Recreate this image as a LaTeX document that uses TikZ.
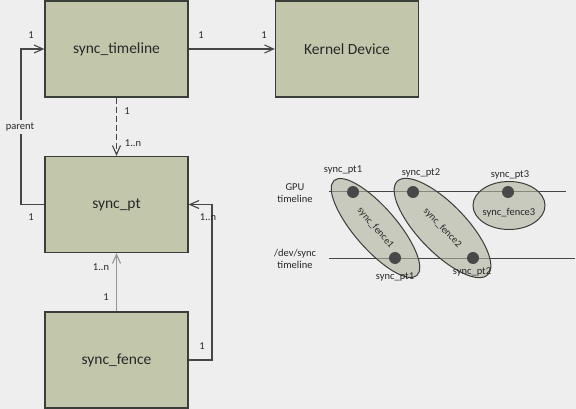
\documentclass[tikz,border=0pt]{standalone}
\usepackage{fontspec}
\setmainfont{Carlito}
\usetikzlibrary{arrows.meta,shapes.geometric}
\definecolor{bg}{RGB}{238,238,238}
\definecolor{boxfill}{RGB}{194,199,171}
\definecolor{boxline}{RGB}{58,62,56}
\definecolor{lnk}{RGB}{70,70,70}
\definecolor{lightlnk}{RGB}{150,150,150}
\definecolor{elfill}{RGB}{176,179,158}
\definecolor{dotc}{RGB}{72,72,72}
\definecolor{txt}{RGB}{40,40,40}
\tikzset{
  classbox/.style={draw=boxline, line width=1.3pt, fill=boxfill, minimum width=143pt, minimum height=96pt, inner sep=0pt, text=txt, font=\fontsize{15.5}{18}\selectfont},
  lbl/.style={text=txt, inner sep=0pt, font=\fontsize{10.5}{12}\selectfont},
  link/.style={draw=lnk, line width=1.1pt},
  head/.style={-{Straight Barb[length=9pt,width=8pt,line width=1.1pt]}},
  tline/.style={draw=lnk, line width=1pt},
  fence/.style={ellipse, draw=boxline, line width=1pt, fill=elfill, fill opacity=0.6, text opacity=1, text=txt, inner sep=0pt, font=\fontsize{10}{12}\selectfont},
  syncdot/.style={circle, fill=dotc, minimum size=12pt, inner sep=0pt}
}
\begin{document}
\begin{tikzpicture}[x=1pt,y=-1pt]
\useasboundingbox (0,0) rectangle (576,409);
\fill[bg] (0,0) rectangle (576,409);

% boxes
\node[classbox] (tl) at (116.5,49) {sync\_timeline};
\node[classbox] (kd) at (347,49) {Kernel Device};
\node[classbox] (pt) at (116.5,204.5) {sync\_pt};
\node[classbox] (fe) at (116.5,360) {sync\_fence};

\coordinate (lc) at (21,0);
\coordinate (rc) at (212,0);

% connectors
\draw[link,head] (tl.east) -- (kd.west);
\draw[link,head,dash pattern=on 6pt off 3pt] (tl.south) -- (pt.north);
\draw[link,draw=lightlnk,head] (fe.north) -- (pt.south);
\draw[link,head] (pt.west) -- (pt.west -| lc) |- (tl.west);
\draw[link,head] (fe.east) -- (fe.east -| rc) |- (pt.east);

% multiplicity labels
\node[lbl] (l1) at (31,35) {1};
\node[lbl] (l2) at (201,35) {1};
\node[lbl] (l3) at (264,35) {1};
\node[lbl] (l4) at (127,111) {1};
\node[lbl] (l5) at (133,143) {1..n};
\node[lbl, fill=bg, inner ysep=3pt] (l6) at (20,127) {parent};
\node[lbl] (l7) at (31,217) {1};
\node[lbl] (l8) at (208,217) {1..n};
\node[lbl] (l9) at (101,267) {1..n};
\node[lbl] (l10) at (106,297) {1};
\node[lbl] (l11) at (202,346) {1};

% timelines
\coordinate (g0) at (329,192);
\coordinate (g1) at (566,192);
\coordinate (d0) at (329,258);
\coordinate (d1) at (575,258);
\draw[tline] (g0) -- (g1);
\draw[tline] (d0) -- (d1);
\node[lbl, align=center] (gpu) at (295,193) {GPU\\timeline};
\node[lbl, align=center] (dev) at (295,259) {/dev/sync\\timeline};

% fences
\node[fence, minimum width=126pt, minimum height=42pt, rotate=-49] (f1) at (375.5,228) {sync\_fence1};
\node[fence, minimum width=130pt, minimum height=48pt, rotate=-46] (f2) at (442.5,228) {sync\_fence2};
\node[fence, minimum width=72pt, minimum height=48pt] (f3) at (509,205.5) {};
\node[lbl] (f3t) at (509,213) {sync\_fence3};

% sync points
\node[syncdot] (p1a) at (353,192) {};
\node[syncdot] (p2a) at (413,192) {};
\node[syncdot] (p3a) at (508,192) {};
\node[syncdot] (p1b) at (395,258) {};
\node[syncdot] (p2b) at (473,258) {};

\node[lbl] (t1a) at (343,170) {sync\_pt1};
\node[lbl] (t2a) at (421,173) {sync\_pt2};
\node[lbl] (t3a) at (510,175) {sync\_pt3};
\node[lbl] (t1b) at (395,277) {sync\_pt1};
\node[lbl] (t2b) at (472,272) {sync\_pt2};
\end{tikzpicture}
\end{document}
